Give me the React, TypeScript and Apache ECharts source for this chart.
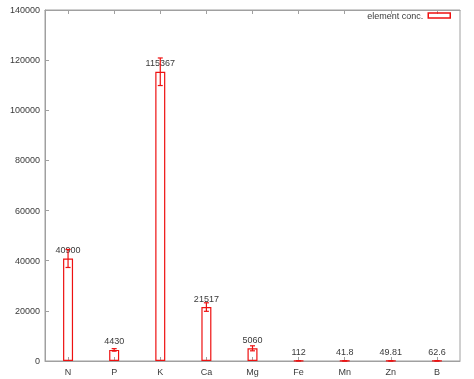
import React, { useEffect, useRef } from "react";
import * as echarts from "echarts";

const categories = ["N", "P", "K", "Ca", "Mg", "Fe", "Mn", "Zn", "B"];
const values = [40900, 4430, 115367, 21517, 5060, 112, 41.8, 49.81, 62.6];
const errors = [3600, 500, 5500, 1700, 1000, 60, 30, 30, 40];
const valueLabels = ["40900", "4430", "115367", "21517", "5060", "112", "41.8", "49.81", "62.6"];
const yTicks = [0, 20000, 40000, 60000, 80000, 100000, 120000, 140000];

export default function App() {
  const ref = useRef<HTMLDivElement>(null);
  useEffect(() => {
    if (!ref.current) return;
    const chart = echarts.init(ref.current, undefined, { renderer: "svg" });
    const font = "Liberation Sans, Arial, sans-serif";
    const red = "#ee1111";
    const axisGray = "#a0a0a0";
    const textColor = "#3a3a3a";
    chart.setOption({
      animation: false,
      grid: {
        left: 45,
        right: 14,
        top: 10,
        bottom: 18,
        show: true,
        borderColor: axisGray,
        borderWidth: 1,
        backgroundColor: "transparent",
      },
      legend: {
        right: 23,
        top: 11,
        padding: 0,
        align: "right",
        icon: "rect",
        itemWidth: 22,
        itemHeight: 5,
        itemGap: 5,
        textStyle: { fontSize: 9, color: textColor, fontFamily: font },
        data: [
          {
            name: "element conc.",
            itemStyle: { color: "transparent", borderColor: red, borderWidth: 1.5 },
          },
        ],
      },
      xAxis: [
        {
          type: "category",
          data: categories,
          position: "bottom",
          axisLine: { show: true, lineStyle: { color: axisGray } },
          axisTick: { show: true, inside: true, alignWithLabel: true, length: 4, lineStyle: { color: axisGray } },
          axisLabel: { fontSize: 9, color: textColor, fontFamily: font, margin: 6 },
        },
        {
          type: "category",
          data: categories,
          position: "top",
          axisLine: { show: true, lineStyle: { color: axisGray } },
          axisTick: { show: true, inside: true, alignWithLabel: true, length: 4, lineStyle: { color: axisGray } },
          axisLabel: { show: false },
        },
      ],
      yAxis: {
        type: "value",
        min: yTicks[0],
        max: yTicks[yTicks.length - 1],
        interval: yTicks[1] - yTicks[0],
        axisLine: { show: true, lineStyle: { color: axisGray } },
        axisTick: { show: true, inside: true, length: 4, lineStyle: { color: axisGray } },
        splitLine: { show: false },
        axisLabel: { fontSize: 9, color: textColor, fontFamily: font, margin: 5, formatter: (v: number) => String(v) },
      },
      series: [
        {
          name: "element conc.",
          type: "bar",
          data: values,
          barWidth: 10,
          itemStyle: { color: "transparent", borderColor: red, borderWidth: 1.2 },
          label: {
            show: true,
            position: "top",
            distance: 4,
            fontSize: 9,
            color: textColor,
            fontFamily: font,
            formatter: (p: any) => valueLabels[p.dataIndex],
          },
        },
        {
          name: "err",
          type: "custom",
          data: values.map((v, i) => [i, v - errors[i], v + errors[i]]),
          renderItem: (params: any, api: any) => {
            const x = api.value(0);
            const lo = api.coord([x, api.value(1)]);
            const hi = api.coord([x, api.value(2)]);
            const c = 2.5;
            const style = { stroke: red, lineWidth: 1.2 };
            return {
              type: "group",
              children: [
                { type: "line", shape: { x1: lo[0], y1: lo[1], x2: hi[0], y2: hi[1] }, style },
                { type: "line", shape: { x1: lo[0] - c, y1: lo[1], x2: lo[0] + c, y2: lo[1] }, style },
                { type: "line", shape: { x1: hi[0] - c, y1: hi[1], x2: hi[0] + c, y2: hi[1] }, style },
              ],
            };
          },
          z: 3,
        },
      ],
    });
    return () => chart.dispose();
  }, []);
  return <div ref={ref} style={{ position: "fixed", left: 0, top: 0, width: 474, height: 379 }} />;
}
